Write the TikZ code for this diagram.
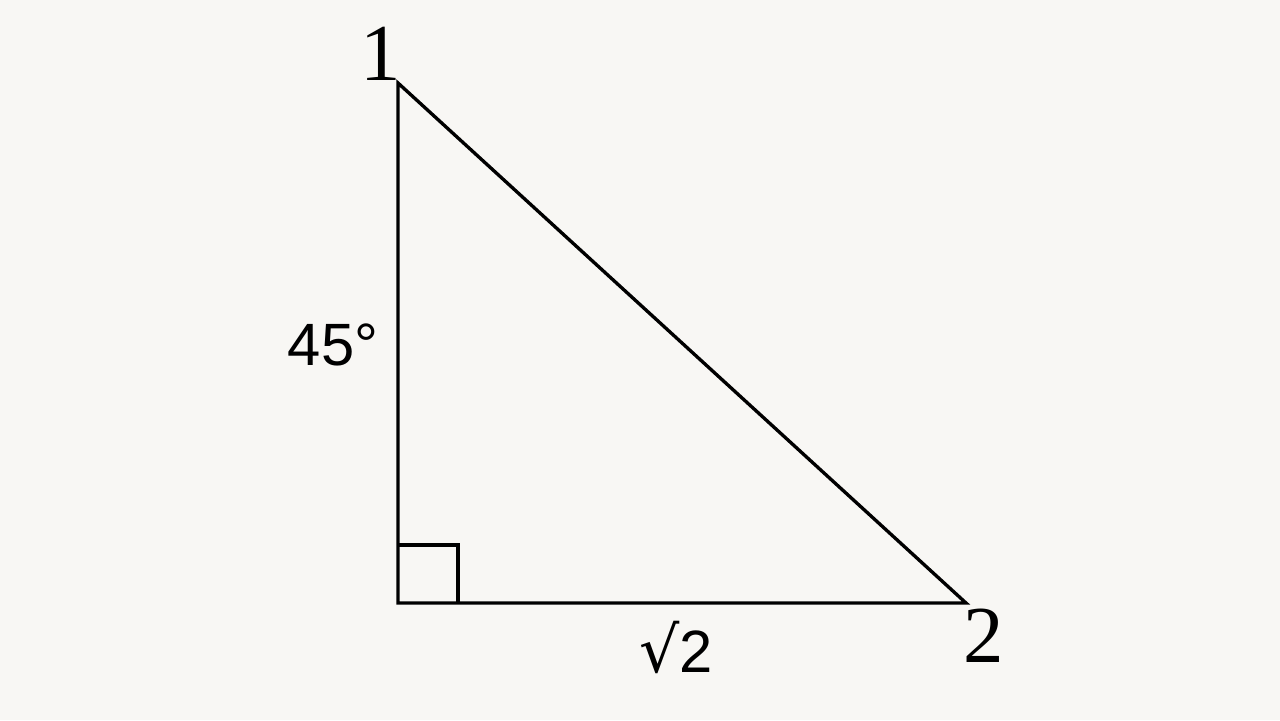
\documentclass[tikz,border=0pt]{standalone}
\usepackage{fontspec}
\newfontfamily\labelsans{Liberation Sans}
\newfontfamily\labelserif{Liberation Serif}
\newfontfamily\rootsign{DejaVu Sans}
\usetikzlibrary{positioning}
\definecolor{paper}{HTML}{F8F7F4}

\begin{document}
\begin{tikzpicture}[
		x=0.02cm, y=-0.02cm,
		edge/.style={
			draw,
			line width=1.9pt,
			line join=miter
		},
		vertex/.style={
			inner sep=0pt,
			font=\labelserif\fontsize{46}{46}\selectfont
		},
		sidelabel/.style={
			inner sep=0pt,
			font=\labelsans\fontsize{34}{34}\selectfont
		}
		]
		
		% page
		\fill[paper] (0,0) rectangle (1280,720);
		\useasboundingbox (0,0) rectangle (1280,720);
		
		% corners of the triangle
		\coordinate (top) at (398,83);
		\coordinate (corner) at (398,603);
		\coordinate (right) at (966,603);
		
		% sides
		\draw[edge] (top) -- (corner) -- (right) -- cycle;
		
		% right angle mark
		\draw[edge] (398,545) -- (458,545) -- (458,603);
		
		% vertex labels
		\node[vertex] (one) at (381,54) {1};
		\node[vertex] (two) at (984,636) {2};
		
		% side labels
		\node[sidelabel] (angle) at (333,345) {45°};
		\node[sidelabel] (base) at (676,647) {{\rootsign\fontsize{36}{36}\selectfont √}2};
		
		\end{tikzpicture}
\end{document}
